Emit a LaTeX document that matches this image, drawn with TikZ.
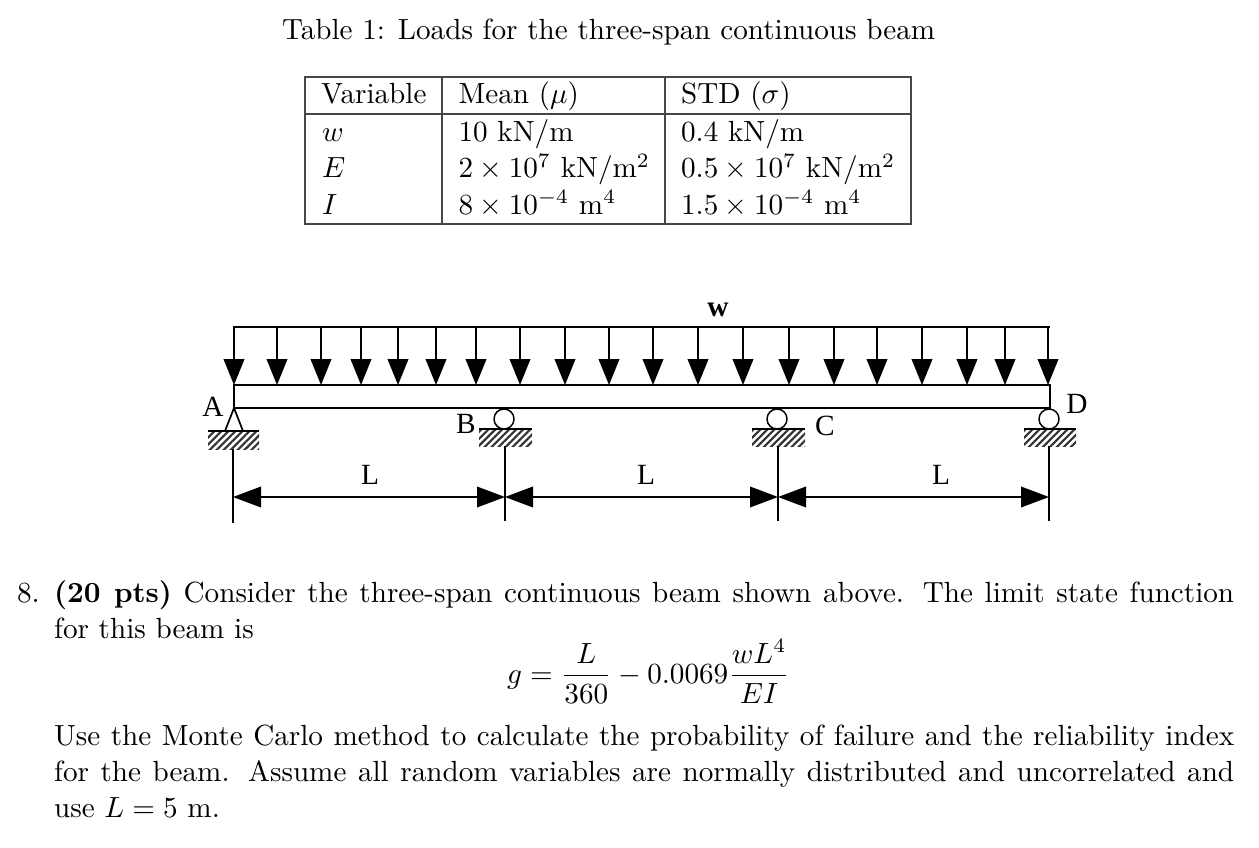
\documentclass[tikz,border=0pt]{standalone}
\usepackage{fontspec}
\usetikzlibrary{arrows.meta,patterns.meta}
\newfontfamily\figfont{Liberation Serif}
\tikzset{every picture/.style={line width=0.75pt}}
\tikzset{
	doc/.style={anchor=base west,inner sep=0pt,scale=2.187},
	figlabel/.style={anchor=base,inner sep=0pt,font=\figfont\fontsize{22}{24}\selectfont},
	tablerule/.style={color={rgb, 255:red, 70; green, 70; blue, 70 },line width=0.8pt},
	beamline/.style={line width=1.3pt},
	thinline/.style={line width=1.1pt},
	loadarrow/.style={line width=1.4pt,-{Triangle[length=19.5pt,width=15.5pt]}},
	dimarrow/.style={line width=1.1pt,{Triangle[length=21pt,width=15.5pt]}-{Triangle[length=21pt,width=15.5pt]}},
	hatch/.style={pattern={Lines[angle=45,distance=3.7pt,line width=1.6pt]},pattern color={rgb, 255:red, 50; green, 50; blue, 50 }}}

\begin{document}
\begin{tikzpicture}[x=0.75pt,y=0.75pt,yscale=-1,xscale=1]
	\useasboundingbox (0,0) rectangle (1259,848);
	
	%Table rules
	\draw [tablerule] (305,77) rectangle (911,224);
	\draw [tablerule] (305,114) -- (911,114);
	\draw [tablerule] (442,77) -- (442,224);
	\draw [tablerule] (665,77) -- (665,224);
	
	%Uniform load
	\coordinate (loadL) at (233,327);
	\coordinate (loadR) at (1050,327);
	\draw [beamline] (loadL) -- (loadR);
	\foreach \x in {234,277,321,361,398,436,476,520,565,609,653,698,743,789,834,877,922,967,1005,1048}
		\draw [loadarrow] (\x,327) -- (\x,385);
	
	%Beam
	\coordinate (beamTL) at (234,385);
	\coordinate (beamBR) at (1050,408);
	\draw [beamline] (beamTL) rectangle (beamBR);
	
	%Support A
	\draw [beamline] (234,408) -- (225,431) (234,408) -- (243,431);
	\fill [hatch] (208,431) rectangle (259,449);
	\draw [thinline] (208,431) -- (259,431);
	%Support B
	\draw [thinline] (504,419) circle (10);
	\fill [hatch] (479,429) rectangle (532,446);
	\draw [thinline] (479,429) -- (532,429);
	%Support C
	\draw [thinline] (777,419) circle (10);
	\fill [hatch] (752,429) rectangle (805,446);
	\draw [thinline] (752,429) -- (805,429);
	%Support D
	\draw [thinline] (1049,419) circle (10);
	\fill [hatch] (1024,429) rectangle (1076,446);
	\draw [thinline] (1024,429) -- (1076,429);
	
	%Dimension lines
	\coordinate (dimA) at (233,497);
	\coordinate (dimB) at (505,497);
	\coordinate (dimC) at (778,497);
	\coordinate (dimD) at (1049,497);
	\draw [thinline] (233,449) -- (233,523);
	\draw [thinline] (505,446) -- (505,521);
	\draw [thinline] (778,446) -- (778,521);
	\draw [thinline] (1049,446) -- (1049,521);
	\draw [dimarrow] (dimA) -- (dimB);
	\draw [dimarrow] (dimB) -- (dimC);
	\draw [dimarrow] (dimC) -- (dimD);
	
	% Text Node
	\draw (281,40) node (capt) [doc] {Table 1: Loads for the three-span continuous beam};
	% Text Node
	\draw (320,104) node (hvar) [doc] {Variable};
	\draw (457.5,104) node (hmean) [doc] {Mean ($\mu$)};
	\draw (680,104) node (hstd) [doc] {STD ($\sigma$)};
	% Text Node
	\draw (321,141.5) node (varw) [doc] {$w$};
	\draw (457.5,141.5) node (meanw) [doc] {10 kN/m};
	\draw (680,141.5) node (stdw) [doc] {0.4 kN/m};
	% Text Node
	\draw (321,178) node (varE) [doc] {$E$};
	\draw (457.5,178) node (meanE) [doc] {$2\times10^{7}$ kN/m$^{2}$};
	\draw (680,178) node (stdE) [doc] {$0.5\times10^{7}$ kN/m$^{2}$};
	% Text Node
	\draw (321,214.5) node (varI) [doc] {$I$};
	\draw (457.5,214.5) node (meanI) [doc] {$8\times10^{-4}$ m$^{4}$};
	\draw (680,214.5) node (stdI) [doc] {$1.5\times10^{-4}$ m$^{4}$};
	
	% Text Node
	\draw (718,316) node (labw) [figlabel] {\textbf{w}};
	\draw (213,416) node (labA) [figlabel] {A};
	\draw (466,433) node (labB) [figlabel] {B};
	\draw (825,435) node (labC) [figlabel] {C};
	\draw (1077,413) node (labD) [figlabel] {D};
	\draw (370,484) node (labL1) [figlabel] {L};
	\draw (646,484) node (labL2) [figlabel] {L};
	\draw (941,484) node (labL3) [figlabel] {L};
	
	% Text Node
	\draw (16,602) node (item) [doc] {8.};
	\draw (53,602) node (line1) [doc] {\makebox[404.7pt][s]{\textbf{(20 pts)} Consider the three-span continuous beam shown above. The limit state function}};
	\draw (53,638) node (line2) [doc] {for this beam is};
	\draw (506,683) node (eqn) [doc] {$\displaystyle g=\frac{L}{360}-0.0069\frac{wL^{4}}{EI}$};
	\draw (53,745) node (line3) [doc] {\makebox[404.7pt][s]{Use the Monte Carlo method to calculate the probability of failure and the reliability index}};
	\draw (53,781) node (line4) [doc] {\makebox[404.7pt][s]{for the beam. Assume all random variables are normally distributed and uncorrelated and}};
	\draw (53,817) node (line5) [doc] {use $L=5$ m.};
	
\end{tikzpicture}
\end{document}
